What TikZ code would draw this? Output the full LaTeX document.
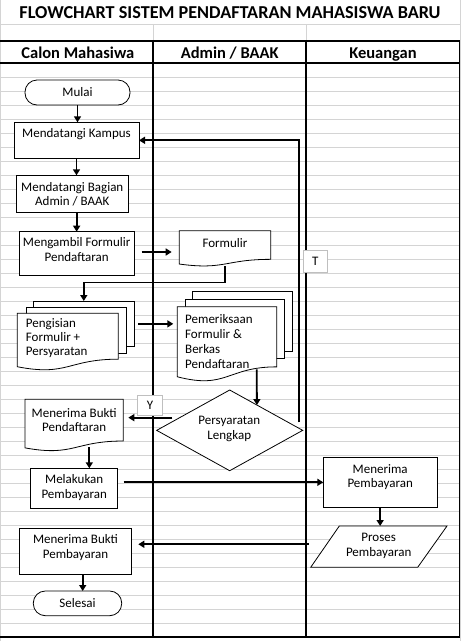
\documentclass[tikz,border=0pt]{standalone}
\usepackage{fontspec}
\setmainfont{Carlito}
\usetikzlibrary{calc,arrows.meta}
\pgfdeclarelayer{grid}
\pgfdeclarelayer{shapes}
\pgfsetlayers{grid,shapes,main}
\definecolor{gridc}{HTML}{D4D4D4}
\definecolor{lblc}{HTML}{BFBFBF}
\tikzset{
 gridln/.style={draw=gridc, line width=0.8pt},
 border/.style={draw=black, line width=1.1pt},
 shp/.style={draw=black, line width=0.8pt, fill=white},
 box/.style={shp, rectangle, inner sep=0pt, outer sep=0pt},
 term/.style={box, rounded corners=12pt, font=\fontsize{13}{14.3}\selectfont},
 frame/.style={rectangle, inner sep=0pt, outer sep=0pt, draw=none},
 txt/.style={font=\fontsize{13}{14.3}\selectfont, align=center, inner sep=0pt},
 ltxt/.style={font=\fontsize{13}{14.3}\selectfont, align=left, inner sep=0pt, anchor=west},
 arr/.style={draw=black, line width=1.8pt, -{Triangle[length=6pt,width=7pt]}},
 lbl/.style={draw=lblc, line width=0.8pt, fill=white, inner sep=0pt, font=\fontsize{13}{14}\selectfont},
 ttl/.style={font=\bfseries\fontsize{18.2}{20}\selectfont, inner sep=0pt, anchor=base},
 hdr/.style={font=\bfseries\fontsize{16.5}{18}\selectfont, inner sep=0pt, anchor=base},
}
\newcommand\docoutline[1]{%
 \draw[shp] (#1.north west) -- (#1.north east) -- ($(#1.north east)!0.802!(#1.south east)$) .. controls ($(#1.north)!0.802!(#1.south)$) and ($(#1.north)!1.107!(#1.south)$) .. ($(#1.north west)!0.934!(#1.south west)$) -- cycle;}
\begin{document}
\begin{tikzpicture}[x=1pt,y=-1pt]
\useasboundingbox (0,0) rectangle (461,641);
\begin{pgfonlayer}{grid}
 \fill[white] (0,0) rectangle (461,641);
 \draw[gridln] (0,24) -- (461,24);
 \foreach \k in {1,...,40} \draw[gridln] (0,{63+14*\k}) -- (461,{63+14*\k});
 \draw[gridln] (0.5,0) -- (0.5,641);
 \draw[gridln] (460.5,0) -- (460.5,641);
 \draw[gridln] (153,24) -- (153,41);
 \draw[gridln] (306,24) -- (306,41);
 \draw[border] (0,41) -- (459.5,41);
 \draw[border] (0,63) -- (459.5,63);
 \draw[border] (0,637) -- (459.5,637);
 \draw[border] (153,41) -- (153,637);
 \draw[border] (306,41) -- (306,637);
 \draw[border] (459.5,41) -- (459.5,637);
\end{pgfonlayer}

% title and lane headers
\node[ttl] (title) at (230,18.3) {FLOWCHART SISTEM PENDAFTARAN MAHASISWA BARU};
\node[hdr] (h1) at (77.8,58.3) {Calon Mahasiwa};
\node[hdr] (h2) at (229.7,58.3) {Admin / BAAK};
\node[hdr] (h3) at (383,58.3) {Keuangan};

% rectangular process boxes and terminals
\node[term, minimum width=105pt, minimum height=25pt] (mulai) at (77.5,92.5) {Mulai};
\node[box, minimum width=125pt, minimum height=36pt] (kampus) at (76.5,140.3) {};
\node[box, minimum width=111.3pt, minimum height=37.4pt] (bagian) at (72.35,194) {};
\node[box, minimum width=114.7pt, minimum height=44pt] (ambil) at (76.65,253.7) {};
\node[box, minimum width=87pt, minimum height=40pt] (bayar) at (74.2,488.3) {};
\node[box, minimum width=113.7pt, minimum height=50pt] (terima) at (380.15,482.3) {};
\node[box, minimum width=112.4pt, minimum height=46pt] (bukti2) at (75.5,551.3) {};
\node[term, minimum width=88.4pt, minimum height=24.7pt] (selesai) at (77.5,603.35) {Selesai};

% frames of drawn shapes
\node[frame, minimum width=91.4pt, minimum height=35.7pt] (form) at (225,248.55) {};
\node[frame, minimum width=98.3pt, minimum height=52pt] (bukti1) at (74.15,425.3) {};
\node[frame, minimum width=101pt, minimum height=57.2pt] (isi) at (67.8,341.9) {};
\node[frame, minimum width=99.4pt, minimum height=75pt] (periksa) at (227,344.2) {};
\node[frame, minimum width=146pt, minimum height=80.7pt] (dia) at (229.7,430.35) {};
\node[frame, minimum width=136.3pt, minimum height=41.3pt] (proses) at (378.85,546.65) {};

\begin{pgfonlayer}{shapes}
 \node[box, minimum width=101pt, minimum height=45.7pt] (isiC) at (83.8,323.85) {};
 \node[box, minimum width=100pt, minimum height=46pt] (isiB) at (76,330.3) {};
 \docoutline{isi}
 \node[box, minimum width=100pt, minimum height=60.7pt] (periksaC) at (242.7,321.35) {};
 \node[box, minimum width=99.3pt, minimum height=59.3pt] (periksaB) at (234.65,328.65) {};
 \docoutline{periksa}
 \docoutline{form}
 \docoutline{bukti1}
 \draw[shp] (dia.north) -- (dia.east) -- (dia.south) -- (dia.west) -- cycle;
 \draw[shp] ($(proses.north west)+(28.6,0)$) -- (proses.north east) -- ($(proses.south east)+(-29.3,0)$) -- (proses.south west) -- cycle;
\end{pgfonlayer}

% texts
\node[txt] (kampus-t) at (76.5,134.5) {Mendatangi Kampus};
\node[txt] (bagian-t) at (72.3,194.5) {Mendatangi Bagian\\Admin / BAAK};
\node[txt] (ambil-t) at (76.7,249.5) {Mengambil Formulir\\Pendaftaran};
\node[txt] (form-t) at (225,242.7) {Formulir};
\node[ltxt] (isi-t) at (25.7,338) {Pengisian\\Formulir +\\Persyaratan};
\node[ltxt, font=\fontsize{13}{15}\selectfont] (periksa-t) at (185,341.3) {Pemeriksaan\\Formulir \&\\Berkas\\Pendaftaran};
\node[txt] (dia-t) at (229.3,429) {Persyaratan\\Lengkap};
\node[txt] (bukti1-t) at (74.2,419.7) {Menerima Bukti\\Pendaftaran};
\node[txt] (bayar-t) at (74.2,487.5) {Melakukan\\Pembayaran};
\node[txt] (terima-t) at (380.2,477) {Menerima\\Pembayaran};
\node[txt] (proses-t) at (378.7,546) {Proses\\Pembayaran};
\node[txt] (bukti2-t) at (75.5,547.5) {Menerima Bukti\\Pembayaran};

% connectors
\draw[arr] (mulai.south) -- (mulai.south |- kampus.north);
\draw[arr] (kampus.south) -- (kampus.south |- bagian.north);
\draw[arr] (ambil.north |- bagian.south) -- (ambil.north);
\draw[arr, shorten <=7.7pt, shorten >=7.6pt] ($(ambil.east)+(0,-1.7)$) coordinate (a1) -- (a1 -| form.west);
\draw[arr] (form.south) -- ++(0,16) -| (isiC.north);
\draw[arr, shorten <=4pt, shorten >=4pt] (isiC.east) -- (isiC.east -| periksa.west);
\draw[arr] ($(periksa.south)+(29.7,-12.4)$) -- ($(dia.north)!0.373!(dia.east)$);
\draw[arr] ($(dia.east)+(-3.4,-8)$) |- (kampus.east);
\draw[arr, shorten >=5pt] ($(dia.west)+(15.6,-12.7)$) coordinate (y1) -- (y1 -| bukti1.east);
\draw[arr] ($(bukti1.south)+(15.15,-4)$) coordinate (b1) -- (b1 |- bayar.north);
\draw[arr, shorten <=6pt] (bayar.east |- terima.west) -- (terima.west);
\draw[arr] (terima.south) -- (terima.south |- proses.north);
\draw[arr, shorten <=2pt, shorten >=6.6pt] ($(proses.west)+(0,-2.4)$) coordinate (p1) -- (p1 -| bukti2.east);
\draw[arr] ($(bukti2.south)+(7.2,0)$) coordinate (b2) -- (b2 |- selesai.north);

% branch labels
\node[lbl, minimum width=24pt, minimum height=22pt] (tlbl) at (315.3,261.7) {T};
\node[lbl, minimum width=24.6pt, minimum height=20pt] (ylbl) at (150,405) {Y};
\end{tikzpicture}
\end{document}
